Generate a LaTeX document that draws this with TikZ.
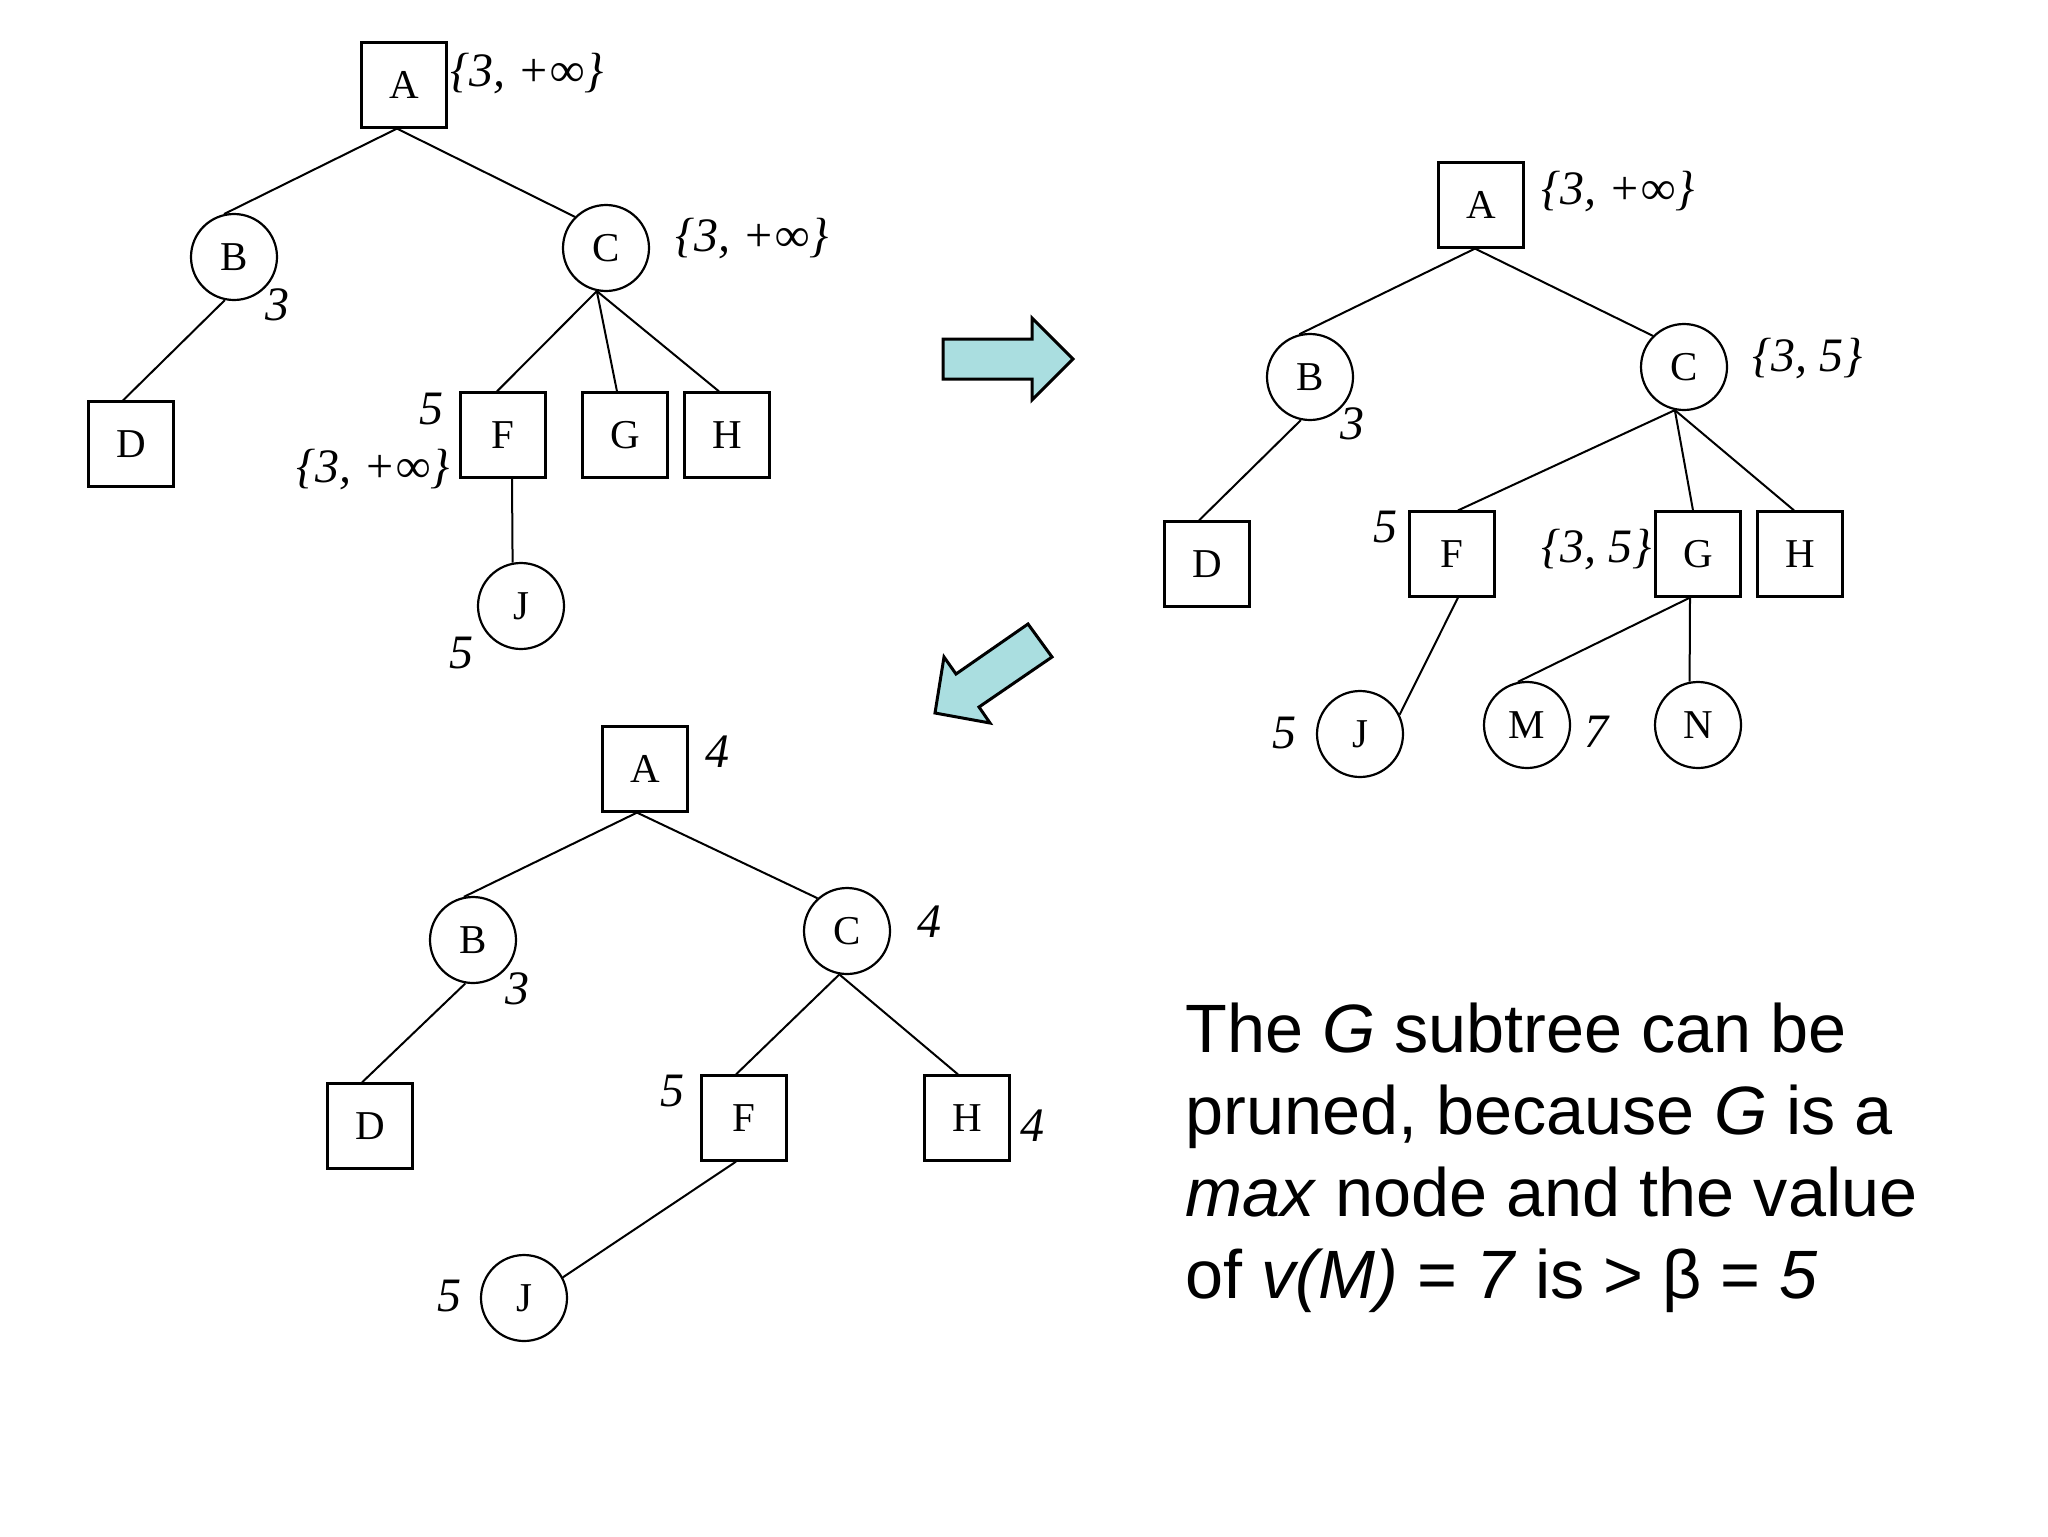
\documentclass[tikz,border=0pt]{standalone}
\usepackage{fontspec}
\setmainfont{Liberation Serif}
\newfontfamily\sansf{Liberation Sans}
\definecolor{arrowfill}{RGB}{170,222,224}
\begin{document}
\begin{tikzpicture}[x=0.5pt,y=-0.5pt,
  sq/.style={draw, line width=1.1pt, minimum width=42.5pt, minimum height=42.5pt, inner sep=0pt, font=\fontsize{20.5}{24}\selectfont},
  cir/.style={draw, circle, line width=1.1pt, minimum size=43pt, inner sep=0pt, font=\fontsize{20.5}{24}\selectfont},
  val/.style={inner sep=0pt, font=\fontsize{24}{28}\selectfont\itshape},
  lnk/.style={line width=1pt},
  blockarrow/.style={fill=arrowfill, draw=black, line width=1.5pt, line join=miter},
  para/.style={anchor=base west, inner sep=0pt, font=\sansf\fontsize{34.2}{41}\selectfont}
]
\useasboundingbox[fill=white] (0,0) rectangle (2048,1536);

% ---------- Tree 1 ----------
\node[sq]  (A1) at (404,85)  {A};
\node[cir] (B1) at (234,257) {B};
\node[cir] (C1) at (606,248) {C};
\node[sq]  (D1) at (131,444) {D};
\node[sq]  (F1) at (503,435) {F};
\node[sq]  (G1) at (625,435) {G};
\node[sq]  (H1) at (727,435) {H};
\node[cir] (J1) at (521,606) {J};

\node[val,anchor=west] (lA1) at (450,74) {\{3,\ +∞\}};
\node[val] (lB1) at (277,305) {3};
\node[val,anchor=west] (lC1) at (675,239) {\{3,\ +∞\}};
\node[val] (lF1) at (431,409) {5};
\node[val,anchor=east] (lF1b) at (450,470) {\{3,\ +∞\}};
\node[val] (lJ1) at (461,653) {5};

\draw[lnk] ([xshift=-3.5pt]A1.south) -- (B1.103);
\draw[lnk] ([xshift=-3.5pt]A1.south) -- (C1.135);
\draw[lnk] (B1.258) -- ([xshift=-4pt]D1.north);
\draw[lnk] (C1.258) -- ([xshift=-3pt]F1.north);
\draw[lnk] (C1.258) -- ([xshift=-4pt]G1.north);
\draw[lnk] (C1.258) -- ([xshift=-4pt]H1.north);
\draw[lnk] ([xshift=4.5pt]F1.south) -- (J1.101);

% ---------- Tree 2 ----------
\node[sq]  (A2) at (1481,205) {A};
\node[cir] (B2) at (1310,377) {B};
\node[cir] (C2) at (1684,367) {C};
\node[sq]  (D2) at (1207,564) {D};
\node[sq]  (F2) at (1452,554) {F};
\node[sq]  (G2) at (1698,554) {G};
\node[sq]  (H2) at (1800,554) {H};
\node[cir] (J2) at (1360,734) {J};
\node[cir] (M2) at (1527,725) {M};
\node[cir] (N2) at (1698,725) {N};

\node[val,anchor=west] (lA2) at (1541,192) {\{3,\ +∞\}};
\node[val] (lB2) at (1352,424) {3};
\node[val,anchor=west] (lC2) at (1752,359) {\{3,\ 5\}};
\node[val] (lF2) at (1385,527) {5};
\node[val,anchor=east] (lG2) at (1652,550) {\{3,\ 5\}};
\node[val] (lJ2) at (1284,733) {5};
\node[val] (lM2) at (1596,732) {7};

\draw[lnk] ([xshift=-3pt]A2.south) -- (B2.104);
\draw[lnk] ([xshift=-3pt]A2.south) -- (C2.135);
\draw[lnk] (B2.258) -- ([xshift=-4pt]D2.north);
\draw[lnk] (C2.258) -- ([xshift=3pt]F2.north);
\draw[lnk] (C2.258) -- ([xshift=-2.5pt]G2.north);
\draw[lnk] (C2.258) -- ([xshift=-3pt]H2.north);
\draw[lnk] ([xshift=3pt]F2.south) -- (J2.26);
\draw[lnk] ([xshift=-4pt]G2.south) -- (M2.102);
\draw[lnk] ([xshift=-4pt]G2.south) -- (N2.101);

% ---------- Tree 3 ----------
\node[sq]  (A3) at (645,769)  {A};
\node[cir] (B3) at (473,940)  {B};
\node[cir] (C3) at (847,931)  {C};
\node[sq]  (D3) at (370,1126) {D};
\node[sq]  (F3) at (744,1118) {F};
\node[sq]  (H3) at (967,1118) {H};
\node[cir] (J3) at (524,1298) {J};

\node[val] (lA3) at (717,752)  {4};
\node[val] (lB3) at (517,989)  {3};
\node[val] (lC3) at (929,922)  {4};
\node[val] (lF3) at (672,1091) {5};
\node[val] (lH3) at (1032,1126) {4};
\node[val] (lJ3) at (449,1296) {5};

\draw[lnk] ([xshift=-4pt]A3.south) -- (B3.102);
\draw[lnk] ([xshift=-4pt]A3.south) -- (C3.132);
\draw[lnk] (B3.260) -- ([xshift=-4pt]D3.north);
\draw[lnk] (C3.260) -- ([xshift=-4pt]F3.north);
\draw[lnk] (C3.260) -- ([xshift=-4.5pt]H3.north);
\draw[lnk] ([xshift=-4pt]F3.south) -- (J3.28);

% ---------- Block arrows ----------
\draw[blockarrow] (943,339) -- (1032,339) -- (1032,318) -- (1073,359) -- (1032,400) -- (1032,379) -- (943,379) -- cycle;
\draw[blockarrow] (1028,624) -- (1052,657) -- (979,707) -- (990,723) -- (935,713) -- (944,657) -- (956,674) -- cycle;

% ---------- Text ----------
\node[para] (t1) at (1185,1052) {The \textit{G} subtree can be};
\node[para] (t2) at (1185,1134) {pruned, because \textit{G} is a};
\node[para] (t3) at (1185,1216) {\textit{max} node and the value};
\node[para] (t4) at (1185,1298) {of \textit{v(M)} = \textit{7} is > β = \textit{5}};
\end{tikzpicture}
\end{document}
